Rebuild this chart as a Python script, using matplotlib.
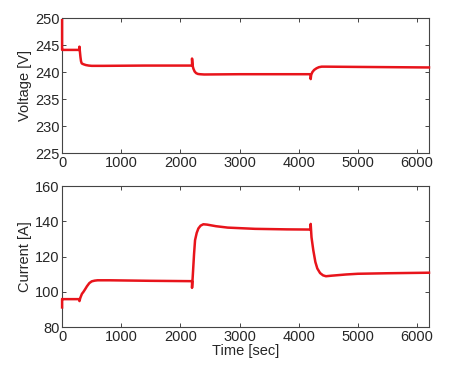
import matplotlib.pyplot as plt

# voltage trace
volt_t = [0, 0, 10, 293, 293, 300, 310, 320, 332, 360, 400, 450, 500, 700,
          1400, 2196, 2196, 2205, 2220, 2240, 2265, 2295, 2330, 2400, 3000,
          4201, 4201, 4210, 4230, 4260, 4300, 4340, 4387, 4450, 5000, 6200]
volt_v = [249.6, 244.1, 244.1, 244.1, 244.7, 243.9, 242.8, 242.0, 241.6, 241.45,
          241.3, 241.2, 241.15, 241.15, 241.2, 241.2, 242.5, 241.2, 240.6, 240.1,
          239.8, 239.65, 239.6, 239.55, 239.6, 239.6, 238.7, 239.5, 240.0, 240.4,
          240.7, 240.9, 241.0, 241.0, 240.95, 240.85]

# current trace
curr_t = [0, 0, 10, 293, 293, 310, 335, 360, 389, 420, 460, 501, 550, 600, 800,
          1500, 2196, 2196, 2210, 2230, 2247, 2275, 2303, 2340, 2387, 2450,
          2600, 2800, 3260, 3800, 4201, 4201, 4215, 4245, 4280, 4313, 4360,
          4410, 4459, 4550, 4800, 5000, 5500, 6200]
curr_a = [91.2, 96.0, 95.9, 95.9, 94.8, 96.8, 98.9, 100.0, 101.5, 103.2, 105.0,
          106.0, 106.4, 106.6, 106.6, 106.3, 106.1, 102.3, 110.0, 121.5, 129.4,
          133.5, 136.0, 137.6, 138.4, 138.2, 137.3, 136.5, 135.8, 135.5, 135.4,
          138.6, 131.0, 123.7, 117.0, 113.3, 110.7, 109.4, 108.9, 109.2, 109.9,
          110.3, 110.6, 110.9]

x_ticks = [0, 1000, 2000, 3000, 4000, 5000, 6000]

plt.rcParams["font.family"] = ["Liberation Sans", "DejaVu Sans"]
plt.rcParams["font.size"] = 10.5

fig = plt.figure(figsize=(4.74, 3.68), dpi=100)
ax1 = fig.add_axes([0.131, 0.584, 0.774, 0.367])
ax2 = fig.add_axes([0.131, 0.111, 0.774, 0.383])

ax1.plot(volt_t, volt_v, color="#e8141b", lw=1.8, solid_joinstyle="round",
         zorder=3, clip_on=False)
ax2.plot(curr_t, curr_a, color="#e8141b", lw=1.8, solid_joinstyle="round",
         zorder=3, clip_on=False)

ax1.set_ylim(225, 250)
ax1.set_yticks([225, 230, 235, 240, 245, 250])
ax1.set_ylabel("Voltage [V]", labelpad=2)

ax2.set_ylim(80, 160)
ax2.set_yticks([80, 100, 120, 140, 160])
ax2.set_ylabel("Current [A]", labelpad=2)
ax2.set_xlabel("Time [sec]", labelpad=0)

for ax in (ax1, ax2):
    ax.set_xlim(0, 6200)
    ax.set_xticks(x_ticks)
    ax.tick_params(direction="in", top=True, right=True, length=3,
                   width=0.7, color="#444444", labelcolor="#262626", pad=2)
    for s in ax.spines.values():
        s.set_color("#444444")
        s.set_linewidth(0.8)
    ax.yaxis.label.set_color("#262626")
    ax.xaxis.label.set_color("#262626")

fig.savefig("out.png", dpi=100)
